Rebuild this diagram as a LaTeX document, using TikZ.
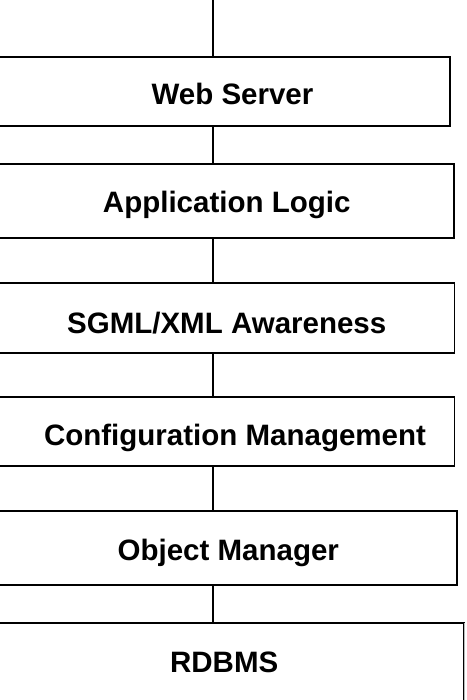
\documentclass[tikz,border=0pt]{standalone}
\usepackage{fontspec}
\setmainfont{Liberation Sans}
\begin{document}
\begin{tikzpicture}[x=1pt,y=-1pt,
  layer/.style={draw=black, line width=1.8pt, rectangle, inner sep=0pt, outer sep=0pt},
  lbl/.style={font=\fontsize{29.5}{35}\selectfont\bfseries, inner sep=0pt, anchor=base},
  conn/.style={draw=black, line width=1.5pt}]
\useasboundingbox (0,0) rectangle (466,700);
\clip (0,0) rectangle (466,700);
\coordinate (top) at (213,-5);
\node[layer, minimum width=474pt, minimum height=69.3pt] (ws) at (213,91.35) {};
\node[layer, minimum width=482pt, minimum height=74.3pt] (al) at (213,201.15) {};
\node[layer, minimum width=483pt, minimum height=70pt] (sx) at (213,318.3) {};
\node[layer, minimum width=483pt, minimum height=69.3pt] (cm) at (213,431.35) {};
\node[layer, minimum width=487.4pt, minimum height=74pt] (om) at (213,548) {};
\node[layer, minimum width=502.6pt, minimum height=106.7pt] (db) at (213,676.65) {};
\draw[gray!55, line width=1.5pt] (db.north east) -- (db.south east);
\node[lbl] (tws) at (232.5,105) {Web Server};
\node[lbl] (tal) at (226.7,213) {Application Logic};
\node[lbl] (tsx) at (226.7,333.3) {SGML/XML Awareness};
\node[lbl] (tcm) at (235,445) {Configuration Management};
\node[lbl] (tom) at (228.3,560.7) {Object Manager};
\node[lbl] (tdb) at (224.2,672.7) {RDBMS};
\draw[conn] (top) -- (ws.north);
\draw[conn] (ws.south) -- (al.north);
\draw[conn] (al.south) -- (sx.north);
\draw[conn] (sx.south) -- (cm.north);
\draw[conn] (cm.south) -- (om.north);
\draw[conn] (om.south) -- (db.north);
\end{tikzpicture}
\end{document}
